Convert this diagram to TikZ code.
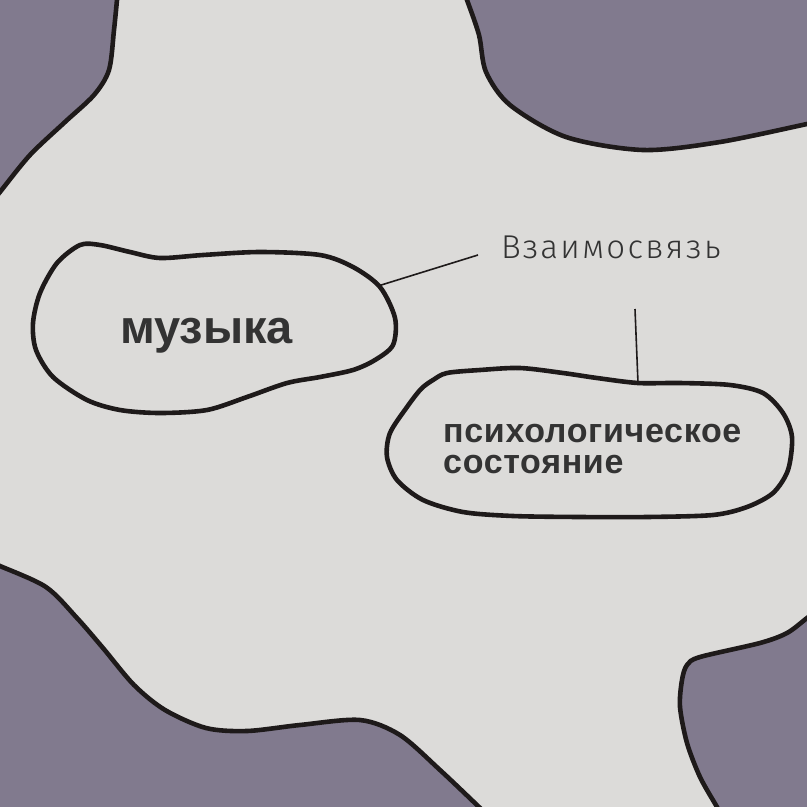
\documentclass[tikz,border=0pt]{standalone}
\usepackage{fontspec}
\setmainfont{Liberation Sans}
\newfontfamily\boldfont{Liberation Sans Bold}
\newfontfamily\midfont{Liberation Sans Bold}[LetterSpace=2]
\newfontfamily\lightfont{Fira Sans Light}[LetterSpace=7]
\definecolor{bgc}{HTML}{DCDBD9}
\definecolor{plum}{HTML}{817A8E}
\definecolor{inkc}{HTML}{1E1A1A}
\definecolor{txtc}{HTML}{333333}
\tikzset{
  outline/.style={draw=inkc, line width=4.6pt, line join=round, line cap=round},
  corner/.style={outline, fill=plum},
  blob/.style={outline},
  link/.style={draw=inkc, line width=1.6pt},
  bigword/.style={inner sep=0pt, anchor=base west, text=txtc, font=\boldfont\fontsize{47}{47}\selectfont},
  midword/.style={inner sep=0pt, anchor=base west, text=txtc, font=\midfont\fontsize{34}{34}\selectfont},
  thinword/.style={inner sep=0pt, anchor=base west, text=txtc, font=\lightfont\fontsize{33}{33}\selectfont}
}
\begin{document}
\begin{tikzpicture}[x=1pt,y=-1pt]
\useasboundingbox (0,0) rectangle (807,807);
\fill[bgc] (0,0) rectangle (807,807);
\begin{scope}
\clip (0,0) rectangle (807,807);
% top-left corner
\path[corner] plot[smooth] coordinates {(118,-10) (117,0) (114,30) (109,70) (94,95) (65,122) (30,155) (0,192) (-8,202)} -- (-20,-20) -- cycle;
% top-right corner
\path[corner] plot[smooth] coordinates {(463,-10) (467,0) (479,35) (486,72) (510,105) (566,137) (643,150) (720,142) (807,124) (820,121)} -- (830,-20) -- cycle;
% bottom-left corner
\path[corner] plot[smooth] coordinates {(-10,562) (0,566) (46,587) (77,618) (103,648) (134,685) (165,710) (206,728) (247,731) (300,725) (360,720) (400,735) (440,770) (479,807) (488,816)} -- (-20,830) -- cycle;
% bottom-right corner
\path[corner] plot[smooth] coordinates {(820,608) (807,618) (787,633) (760,643) (700,657) (687,665) (682,680) (680,707) (687,743) (700,777) (717,807) (722,816)} -- (830,830) -- cycle;
\end{scope}
% blobs
\path[blob] plot[smooth cycle] coordinates {(80,245) (100,245) (130,252) (160,258) (203,255) (260,252) (320,255) (353,267) (380,287) (395,318) (393,345) (375,360) (353,370) (320,377) (287,383) (247,397) (207,410) (160,413) (120,410) (87,400) (53,377) (36,350) (33,323) (40,293) (57,263)};
\path[blob] plot[smooth cycle] coordinates {(433,380) (447,373) (480,370) (520,368) (563,373) (597,378) (638,383) (680,383) (730,385) (763,393) (783,413) (792,437) (788,470) (773,493) (747,507) (713,515) (647,517) (580,517) (513,516) (463,512) (423,500) (397,480) (387,457) (390,433) (407,407) (421,389)};
% texts
\node[bigword] (music) at (120,343) {музыка};
\node[midword] (psyA) at (443,442) {психологическое};
\node[midword] (psyB) at (443,473) {состояние};
\node[thinword] (rel) at (501,258) {Взаимосвязь};
% connectors
\coordinate (m1) at (378,286);
\coordinate (r1) at (478,255);
\coordinate (r2) at (635,309);
\coordinate (p1) at (638,383);
\draw[link] (m1) -- (r1);
\draw[link] (r2) -- (p1);
\end{tikzpicture}
\end{document}
